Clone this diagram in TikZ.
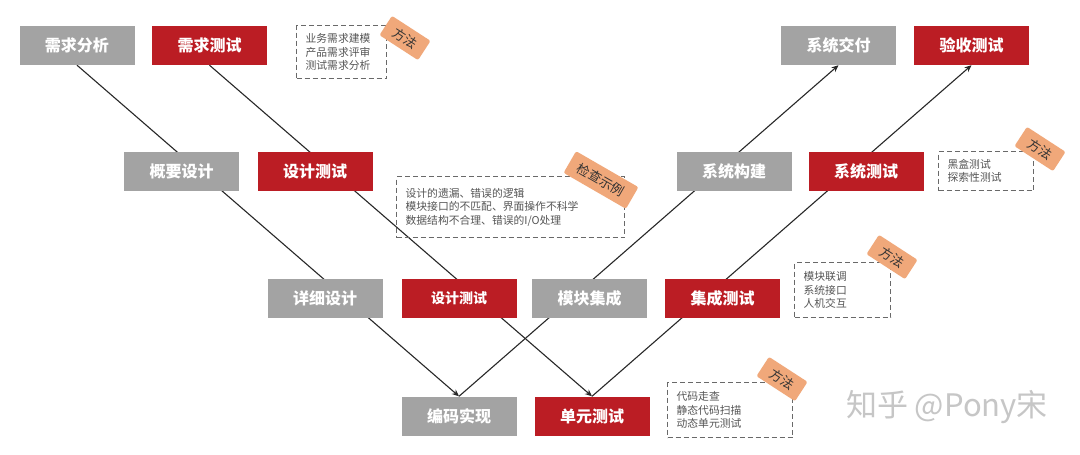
\documentclass[tikz,border=0pt]{standalone}
\usepackage{fontspec}
\newfontfamily\cjk{Noto Sans CJK SC}
\usetikzlibrary{arrows.meta,backgrounds}
\definecolor{boxgray}{RGB}{163,163,163}
\definecolor{boxred}{RGB}{187,29,36}
\definecolor{tagor}{RGB}{240,168,122}
\definecolor{linec}{RGB}{40,40,40}
\definecolor{notetext}{RGB}{85,85,85}
\definecolor{dashc}{RGB}{105,105,105}
\begin{document}
\begin{tikzpicture}[x=1pt,y=-1pt,
  stage/.style={minimum width=115pt, minimum height=39pt, inner sep=0pt, text=white, font=\cjk\bfseries\fontsize{16}{16}\selectfont},
  grayst/.style={stage, fill=boxgray},
  redst/.style={stage, fill=boxred},
  note/.style={draw=dashc, dash pattern=on 5pt off 3pt, line width=1.2pt, inner xsep=9pt, inner ysep=0pt, anchor=north west, text=notetext, font=\cjk\fontsize{10.8}{13.5}\selectfont, align=left},
  tag/.style={fill=tagor, rounded corners=2pt, inner sep=0pt, font=\cjk\fontsize{13}{13}\selectfont, text=black!80},
  conn/.style={draw=linec, line width=1.1pt},
  arr/.style={conn, -{Stealth[length=7pt,width=6pt]}},
]
\useasboundingbox (0,0) rectangle (1080,455);

% stages
\node[grayst] (xqfx) at (77,45.5) {需求分析};
\node[redst]  (xqcs) at (209.5,45.5) {需求测试};
\node[grayst] (xtjf) at (838.5,45.5) {系统交付};
\node[redst]  (yscs) at (971.5,45.5) {验收测试};

\node[grayst] (gysj) at (181.5,171) {概要设计};
\node[redst]  (sjcsa) at (315,171) {设计测试};
\node[grayst] (xtgj) at (734,171) {系统构建};
\node[redst]  (xtcs) at (866,171) {系统测试};

\node[grayst] (xxsj) at (325,298) {详细设计};
\node[redst, font=\cjk\bfseries\fontsize{14}{14}\selectfont] (sjcsb) at (459,298) {设计测试};
\node[grayst] (mkjc) at (589.5,298) {模块集成};
\node[redst]  (jccs) at (722.5,298) {集成测试};

\node[grayst] (bmsx) at (459,416) {编码实现};
\node[redst]  (dycs) at (592,416) {单元测试};

% connectors (behind the boxes)
\begin{scope}[on background layer]
\fill[white] (0,0) rectangle (1080,455);
\draw[arr] (xqfx.south) -- (bmsx.north);
\draw[arr] (bmsx.north) -- (xtjf.south);
\draw[arr] (xqcs.south) -- (dycs.north);
\draw[arr] (dycs.north) -- (yscs.south);
\end{scope}

% notes
\node[note, minimum width=90pt, minimum height=53pt, text width=72pt] (n1) at (296,25) {业务需求建模\\产品需求评审\\测试需求分析};
\node[note, minimum width=228pt, minimum height=61pt, text width=210pt] (n2) at (396,176) {设计的遗漏、错误的逻辑\\模块接口的不匹配、界面操作不科学\\数据结构不合理、错误的I/O处理};
\node[note, minimum width=95pt, minimum height=39pt, text width=77pt] (n3) at (938,151) {黑盒测试\\探索性测试};
\node[note, minimum width=96pt, minimum height=55pt, text width=78pt] (n4) at (794,262) {模块联调\\系统接口\\人机交互};
\node[note, minimum width=125pt, minimum height=55pt, text width=107pt] (n5) at (667,382) {代码走查\\静态代码扫描\\动态单元测试};

% tags
\node[tag, minimum width=46pt, minimum height=23pt, rotate=-33] (t1) at (405,38) {方法};
\node[tag, minimum width=72pt, minimum height=25pt, rotate=-30] (t2) at (601,180) {检查示例};
\node[tag, minimum width=46pt, minimum height=23pt, rotate=-33] (t3) at (1040,149) {方法};
\node[tag, minimum width=46pt, minimum height=23pt, rotate=-33] (t4) at (892,257) {方法};
\node[tag, minimum width=46pt, minimum height=23pt, rotate=-33] (t5) at (782,379) {方法};

% watermark
\node[font=\cjk\fontsize{31}{31}\selectfont, text=gray!45] (wm) at (947,407) {知乎 @Pony宋};
\end{tikzpicture}
\end{document}
